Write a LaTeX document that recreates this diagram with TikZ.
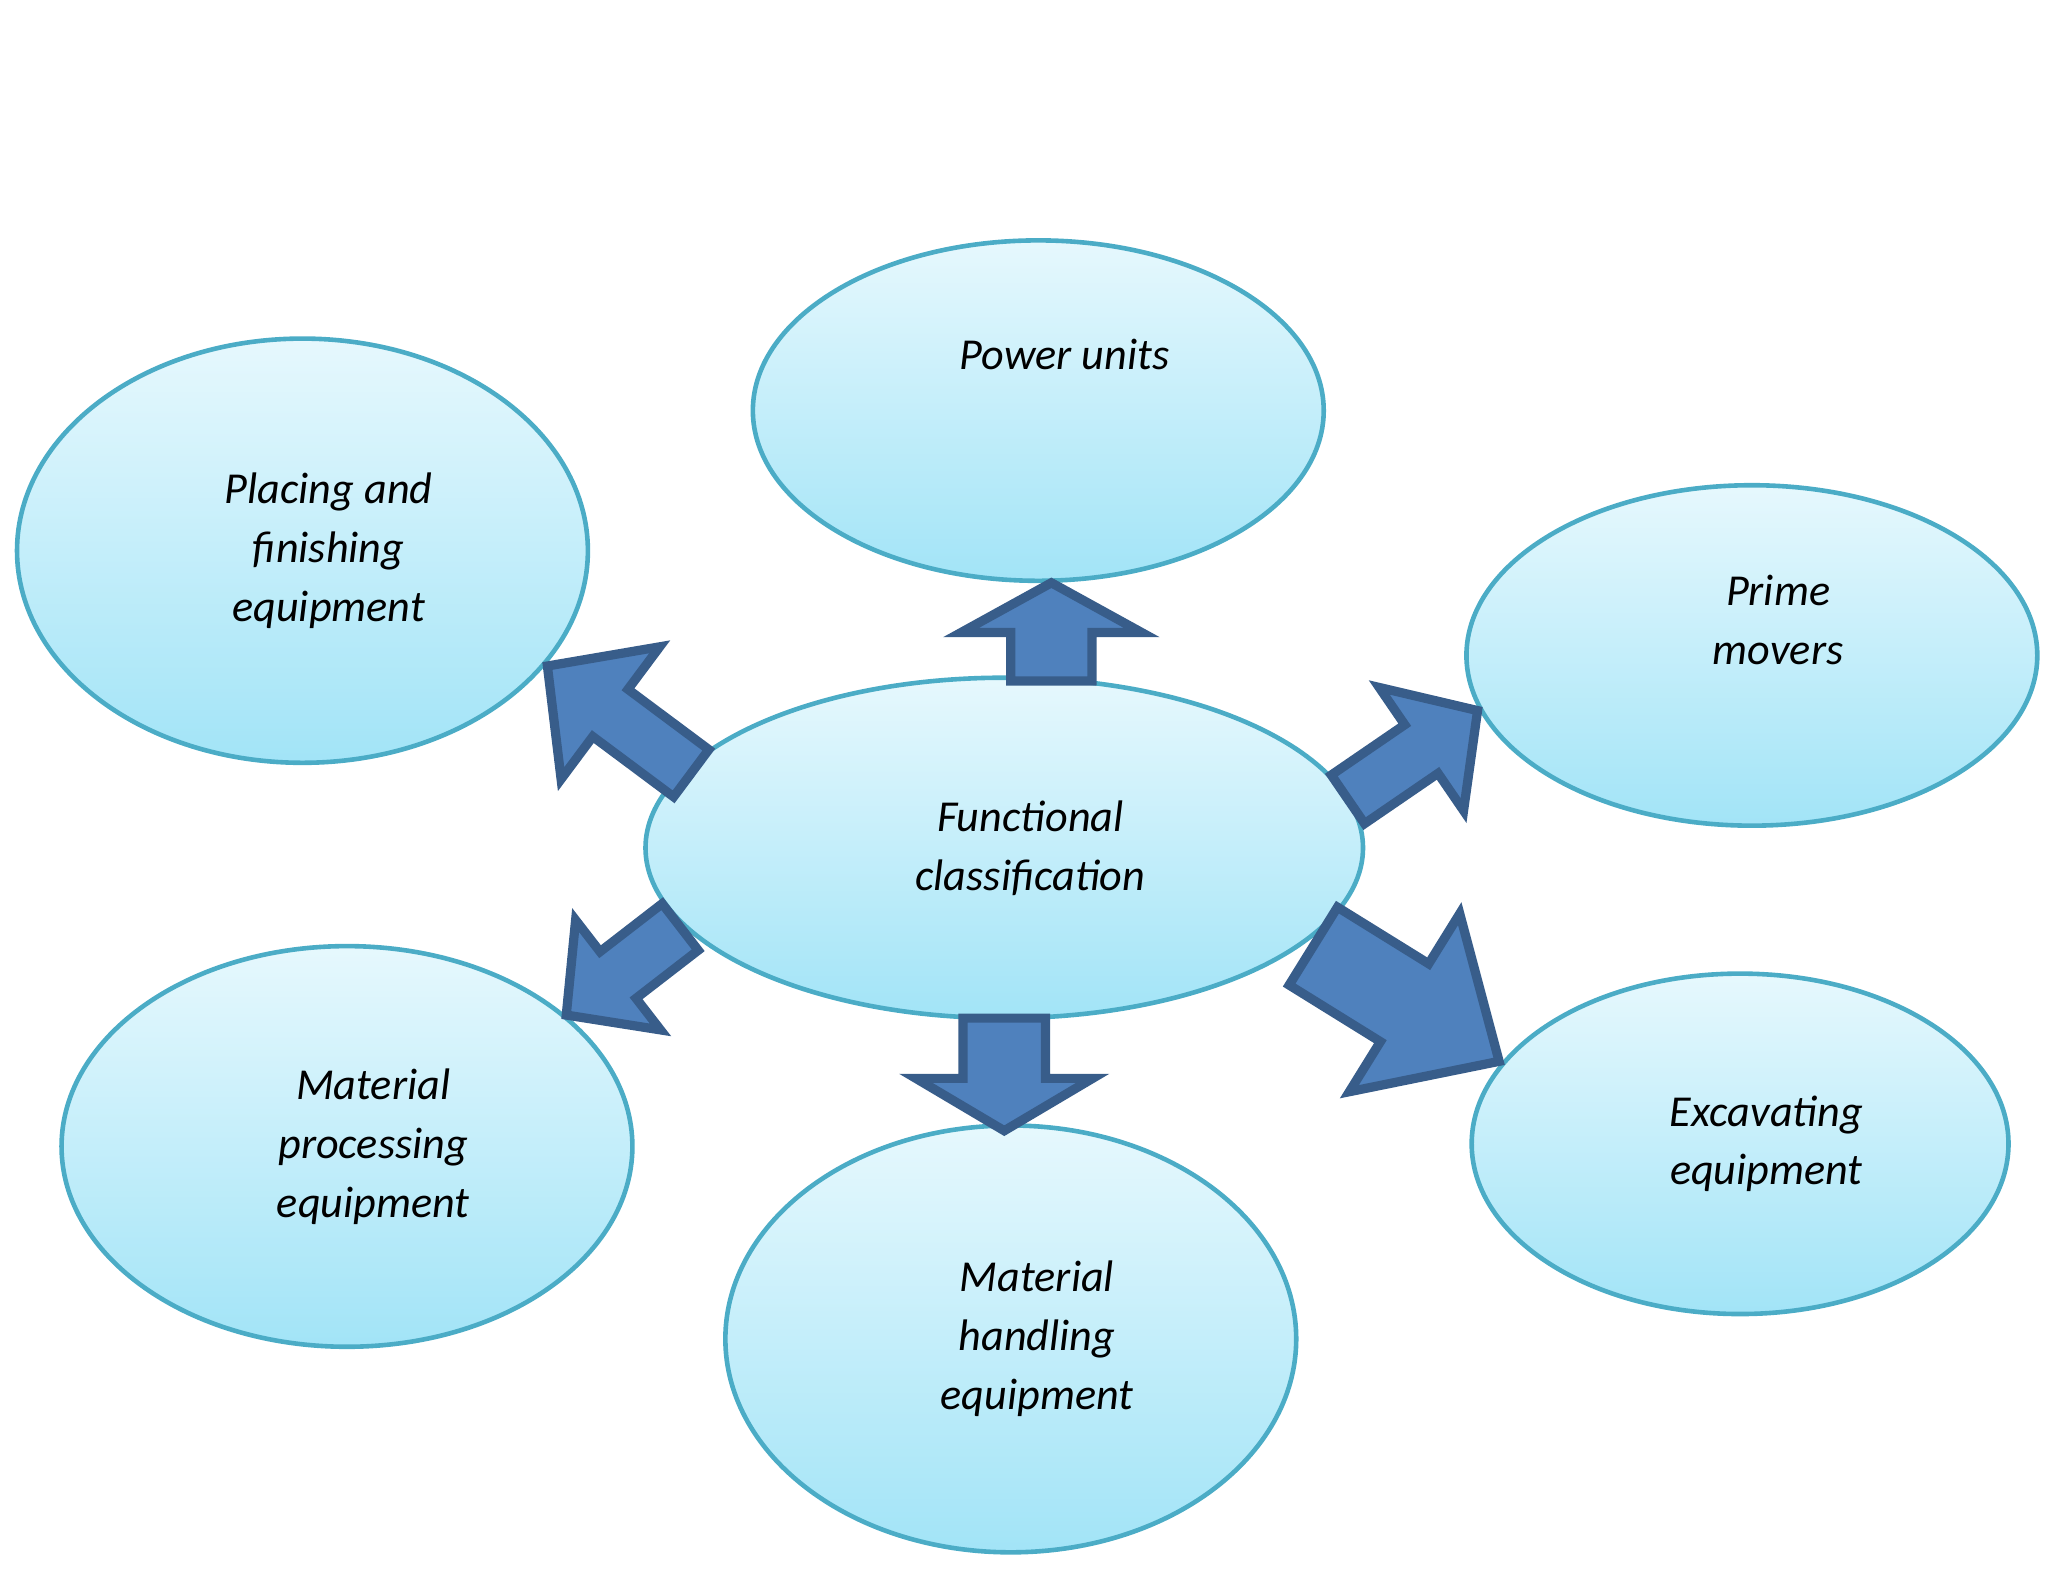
\documentclass[tikz,border=0pt]{standalone}
\usepackage{fontspec}
\setmainfont{Carlito}
\usetikzlibrary{shapes.geometric}
\definecolor{rim}{HTML}{4BACC6}
\definecolor{bubbletop}{HTML}{E6F8FD}
\definecolor{bubblebot}{HTML}{A2E4F7}
\definecolor{blockfill}{HTML}{4F81BD}
\definecolor{blockline}{HTML}{385D8A}
\tikzset{
  bubble/.style={ellipse, draw=rim, line width=1pt, top color=bubbletop, bottom color=bubblebot,
    inner sep=0pt, align=center, font=\fontsize{9.6}{12.8}\selectfont\itshape},
  block/.style={draw=blockline, fill=blockfill, line width=2pt, line join=miter}
}
% block arrow: #1 centre, #2 angle, #3 length, #4 shaft width, #5 head width, #6 head length
\newcommand{\blockarrow}[6]{%
  \begin{scope}[shift={#1}, rotate=#2]
    \draw[block] (-#3/2,-#4/2) -- (#3/2-#6,-#4/2) -- (#3/2-#6,-#5/2) -- (#3/2,0)
      -- (#3/2-#6,#5/2) -- (#3/2-#6,#4/2) -- (-#3/2,#4/2) -- cycle;
  \end{scope}}
\begin{document}
\begin{tikzpicture}

\useasboundingbox (0,0) rectangle (15.68,11.976);

\node[bubble, minimum width=4.36cm, minimum height=2.6cm] (power) at (7.93,8.84) {\hspace*{0.4cm}Power units\\[1.2em]};
\node[bubble, minimum width=4.36cm, minimum height=3.24cm] (placing) at (2.31,7.77) {\hspace*{0.4cm}Placing and\\\hspace*{0.4cm}finishing\\\hspace*{0.4cm}equipment};
\node[bubble, minimum width=4.36cm, minimum height=2.6cm] (prime) at (13.38,6.97) {\hspace*{0.4cm}Prime\\\hspace*{0.4cm}movers\\[0.3em]};
\node[bubble, minimum width=5.48cm, minimum height=2.6cm] (func) at (7.67,5.50) {\hspace*{0.4cm}Functional\\\hspace*{0.4cm}classification};
\node[bubble, minimum width=4.36cm, minimum height=3.06cm] (proc) at (2.65,3.22) {\hspace*{0.4cm}Material\\\hspace*{0.4cm}processing\\\hspace*{0.4cm}equipment};
\node[bubble, minimum width=4.36cm, minimum height=3.26cm] (hand) at (7.72,1.75) {\hspace*{0.4cm}Material\\\hspace*{0.4cm}handling\\\hspace*{0.4cm}equipment};
\node[bubble, minimum width=4.1cm, minimum height=2.6cm] (exc) at (13.29,3.24) {\hspace*{0.4cm}Excavating\\\hspace*{0.4cm}equipment};

% block arrows
\blockarrow{(8.03,7.15)}{90}{0.75}{0.62}{1.38}{0.38}
\blockarrow{(4.73,6.48)}{143.3}{1.37}{0.45}{1.26}{0.6}
\blockarrow{(10.79,6.21)}{34.4}{1.2}{0.45}{1.14}{0.52}
\blockarrow{(4.76,4.56)}{217.7}{1.1}{0.45}{1.06}{0.5}
\blockarrow{(7.67,3.77)}{-90}{0.86}{0.63}{1.35}{0.4}
\blockarrow{(10.74,4.31)}{-31.8}{1.67}{0.7}{1.6}{0.85}

\end{tikzpicture}
\end{document}
